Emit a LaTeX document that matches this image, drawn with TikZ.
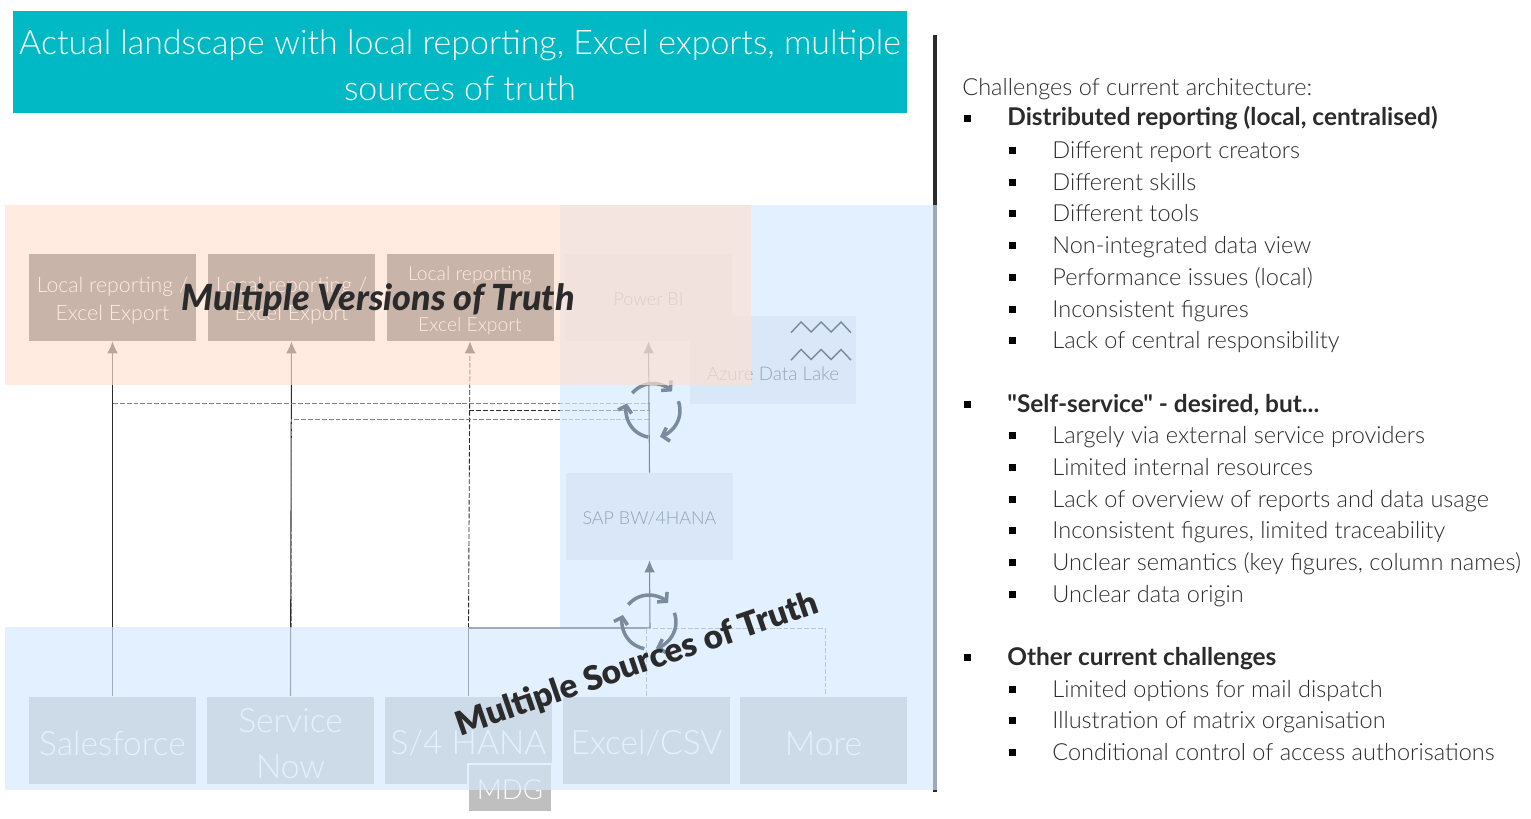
\documentclass[tikz,border=0pt]{standalone}
\usepackage{fontspec}
\setmainfont{Lato}[Ligatures=TeXOff,UprightFont=* Light,BoldFont=*-Bold,BoldItalicFont=*-BoldItalic]
\newfontfamily\sloganfont{Lato}[UprightFont=* Black,ItalicFont=* Black Italic]
\usetikzlibrary{arrows.meta}
\definecolor{tealbar}{HTML}{00B9C4}
\definecolor{bluelayer}{HTML}{D5E9FF}
\definecolor{peachlayer}{HTML}{FFE1D1}
\definecolor{inkdark}{HTML}{2B2B2B}
\definecolor{slateicon}{HTML}{7A8B9E}
\definecolor{targetfill}{HTML}{D9E7F8}
\definecolor{targettext}{HTML}{93A3B8}
\newcommand{\lift}[1]{\rule{0pt}{#1}}
\tikzset{>={Latex[length=6.8pt,width=6pt]}}
\tikzset{
  boxbase/.style={minimum width=167*0.02cm,minimum height=87*0.02cm,inner sep=0pt,align=center,text=white},
  sourcebox/.style={boxbase,fill=black!25,font=\fontsize{19.1pt}{26.4pt}\selectfont},
  reportbox/.style={boxbase,fill=black!65,font=\fontsize{12.1pt}{16pt}\selectfont},
  targetbox/.style={boxbase,fill=targetfill,text=targettext,font=\fontsize{10.2pt}{14pt}\selectfont},
  link/.style={draw=inkdark,line width=.6pt},
  crossdash/.style={draw=black!50,line width=.5pt,dash pattern=on 2.8pt off 1.1pt},
  cycleicon/.style={draw=slateicon,line width=2pt,-{Straight Barb[length=3.5pt,width=8pt]}},
  wave/.style={draw=slateicon,line width=.8pt},
  slogan/.style={text=inkdark,font=\fontsize{19pt}{22pt}\sloganfont},
  listline/.style={anchor=base west,yshift=-0.16cm,inner sep=0pt,text=inkdark,font=\fontsize{13.4pt}{16pt}\selectfont},
  listhead/.style={listline,font=\fontsize{13.9pt}{16pt}\selectfont\bfseries},
  sqmark/.style={fill=black,minimum size=7*0.02cm,inner sep=0pt},
}

\begin{document}
\begin{tikzpicture}[x=0.02cm,y=-0.02cm]
  \useasboundingbox (0,0) rectangle (1531,818);
  \node[fill=tealbar,minimum width=894*0.02cm,minimum height=102*0.02cm,inner sep=0pt,align=center,text=white,
    font=\fontsize{19.3pt}{26pt}\selectfont] (title) at (460,62)
    {\lift{17.7pt}Actual landscape with local reporting, Excel exports, multiple\\sources of truth};

  \coordinate (railtop) at (935,35);
  \coordinate (railend) at (935,792);
  \draw[draw=inkdark,line width=2pt] (railtop) -- (railend);

  % sources and local reports, faded later by the layers
  \node[sourcebox] (salesforce) at (112.5,740) {\lift{17.5pt}Salesforce};
  \node[sourcebox] (servicenow) at (290.5,740) {\lift{17.5pt}Service\\Now};
  \node[sourcebox] (hana) at (468.5,740) {\lift{17.5pt}S/4 HANA};
  \node[sourcebox] (excel) at (646.5,740) {\lift{17.5pt}Excel/CSV};
  \node[sourcebox] (more) at (823.5,740) {\lift{17.5pt}More};
  \node[sourcebox,draw=white,line width=.8pt,minimum width=84*0.02cm,minimum height=48*0.02cm,
    font=\fontsize{15.7pt}{20pt}\selectfont] (mdg) at (510,788) {\lift{13pt}MDG};
  \node[reportbox] (report1) at (112.5,297.5) {\lift{12.4pt}Local reporting /\\Excel Export};
  \node[reportbox] (report2) at (291.5,297.5) {\lift{12.4pt}Local reporting /\\Excel Export};
  \node[reportbox,font=\fontsize{11pt}{14.7pt}\selectfont] (report3) at (470,297.5) {\lift{11.5pt}Local reporting\\FI /\\Excel Export};

  \coordinate (hanaup) at (468.5,628);
  \coordinate (hanaside) at (650,628);
  \coordinate (exceltop) at (646,696);
  \coordinate (excelup) at (646,628);
  \coordinate (moreup) at (825,628);
  \coordinate (moretop) at (825,696);
  \coordinate (d1a) at (113,403);
  \coordinate (d1b) at (650,403);
  \coordinate (d2a) at (291,419);
  \coordinate (d2b) at (650,419);
  \coordinate (d3a) at (469,410);
  \coordinate (d3b) at (650,410);
  \coordinate (d2c) at (291,628);

  \draw[link,->] (salesforce.north) -- (report1.south);
  \draw[link,->] (servicenow.north) -- (report2.south);
  \draw[link] (hana.north) -- (hanaup);
  \draw[crossdash,draw=inkdark,->] (hanaup) -- (report3.south);
  \draw[crossdash] (d1a) -- (d1b);
  \draw[crossdash] (d2c) -- (d2a) -- (d2b);
  \draw[crossdash,draw=inkdark] (d3a) -- (d3b);
  \draw[link] (hanaup) -- (hanaside);
  \draw[crossdash] (exceltop) -- (excelup) -- (moreup) -- (moretop);

  % the two layers over it
  \fill[bluelayer,fill opacity=.67] (5,627) rectangle (937,790);
  \fill[bluelayer,fill opacity=.67] (560,205) rectangle (937,626.5);

  \node[targetbox] (sap) at (649.5,516.5) {\lift{9.6pt}SAP BW/4HANA};
  \node[targetbox] (powerbi) at (648.5,297.5) {\lift{9.6pt}Power BI};
  \node[targetbox,minimum width=166*0.02cm,minimum height=88*0.02cm] (lake) at (773,360) {};
  \node[text=targettext,inner sep=0pt,font=\fontsize{10.7pt}{14pt}\selectfont] (laketext) at (773,374) {Azure Data Lake};
  \foreach \wy in {0,27.5}
    \draw[wave,yshift=-\wy*0.02cm] (791,332.7) -- (801,322) -- (811,332) -- (821,322) -- (831,332) -- (841,322) -- (851,332.7);

  \draw[draw=slateicon,line width=.6pt,->] (hanaside) -- (sap.south);
  \draw[draw=slateicon,line width=.6pt,->] (sap.north) -- (powerbi.south);

  \coordinate (cycleup) at (653,410.5);
  \coordinate (cycledown) at (649,622);
  \foreach \a in {140,20,-100} {
    \draw[cycleicon] (cycleup) ++(\a:0.54cm) arc[start angle=\a,delta angle=-95,radius=0.54cm];
    \draw[cycleicon] (cycledown) ++(\a:0.54cm) arc[start angle=\a,delta angle=-95,radius=0.54cm];
  }

  \fill[peachlayer,fill opacity=.67] (5,205) rectangle (751,385);

  \node[slogan,font=\fontsize{20.5pt}{22pt}\sloganfont] (versions) at (378,300) {\itshape Multiple Versions of Truth};
  \node[slogan,rotate=19] (sources) at (637,665) {Multiple Sources of Truth};

  % list on the right
  \node[listline] (intro) at (962,87) {Challenges of current architecture:};
  \foreach \ly/\txt in {118/{Distributed reporting (local, centralised)},404/{"Self-service" - desired, but...},657/{Other current challenges}} {
    \node[listhead] (head\ly) at (1007,\ly) {\txt};
    \node[sqmark] (mark\ly) at (967.5,\ly) {};
  }
  \foreach \ly/\txt in {150/Different report creators,182/Different skills,213/Different tools,245/Non-integrated data view,277/Performance issues (local),309/Inconsistent figures,340/Lack of central responsibility,435/Largely via external service providers,467/Limited internal resources,499/Lack of overview of reports and data usage,530/{Inconsistent figures, limited traceability},562/{Unclear semantics (key figures, column names)},594/Unclear data origin,689/Limited options for mail dispatch,720/Illustration of matrix organisation,752/Conditional control of access authorisations} {
    \node[listline] (item\ly) at (1052,\ly) {\txt};
    \node[sqmark] (mark\ly) at (1012.5,\ly) {};
  }
\end{tikzpicture}
\end{document}
